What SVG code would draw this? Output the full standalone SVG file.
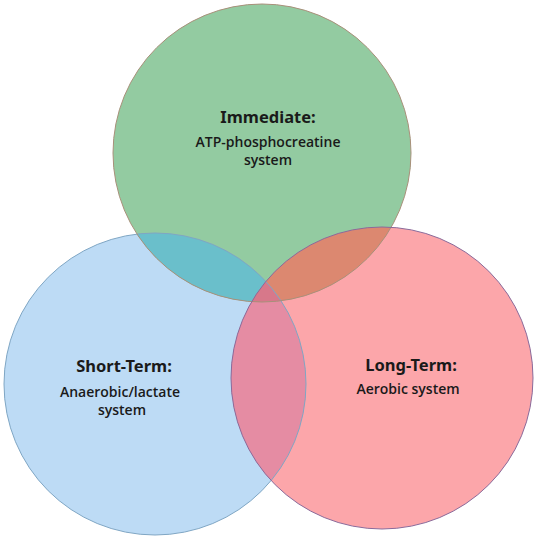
<svg xmlns="http://www.w3.org/2000/svg" width="536" height="539" viewBox="0 0 536 539">
  <style>
    .title { font-family: "Noto Sans", "Liberation Sans", sans-serif; font-weight: bold; font-size: 16.5px; fill: #1a1a1a; text-anchor: middle; }
    .sub { font-family: "Open Sans", "Liberation Sans", sans-serif; font-weight: 600; font-size: 14px; fill: #1a1a1a; text-anchor: middle; }
  </style>
  <defs>
    <clipPath id="clipG"><circle cx="262" cy="153" r="149"/></clipPath>
    <clipPath id="clipB"><circle cx="155" cy="384" r="151"/></clipPath>
    <clipPath id="clipR"><circle cx="382" cy="378" r="151"/></clipPath>
  </defs>
  <rect width="536" height="539" fill="#ffffff"/>
  <g id="fills">
    <circle cx="155" cy="384" r="151" fill="#bddbf5"/>
    <circle cx="262" cy="153" r="149" fill="#93cba1"/>
    <circle cx="382" cy="378" r="151" fill="#fca6aa"/>
    <g clip-path="url(#clipG)">
      <circle cx="155" cy="384" r="151" fill="#6abfcb"/>
      <circle cx="382" cy="378" r="151" fill="#dc8870"/>
    </g>
    <g clip-path="url(#clipB)">
      <circle cx="382" cy="378" r="151" fill="#e58ca3"/>
      <g clip-path="url(#clipG)">
        <circle cx="382" cy="378" r="151" fill="#d7788a"/>
      </g>
    </g>
  </g>
  <g id="outlines" fill="none" stroke-width="1">
    <circle cx="155" cy="384" r="151" stroke="#7fa6c4"/>
    <circle cx="262" cy="153" r="149" stroke="#a8907a"/>
    <circle cx="382" cy="378" r="151" stroke="#8a6a9a"/>
  </g>
  <g id="immediate">
    <text class="title" x="268" y="123">Immediate:</text>
    <text class="sub" x="268" y="147">ATP-phosphocreatine</text>
    <text class="sub" x="268" y="165">system</text>
  </g>
  <g id="short-term">
    <text class="title" x="124" y="372">Short-Term:</text>
    <text class="sub" x="120" y="397">Anaerobic/lactate</text>
    <text class="sub" x="122" y="415">system</text>
  </g>
  <g id="long-term">
    <text class="title" x="411" y="371">Long-Term:</text>
    <text class="sub" x="408" y="394">Aerobic system</text>
  </g>
</svg>
